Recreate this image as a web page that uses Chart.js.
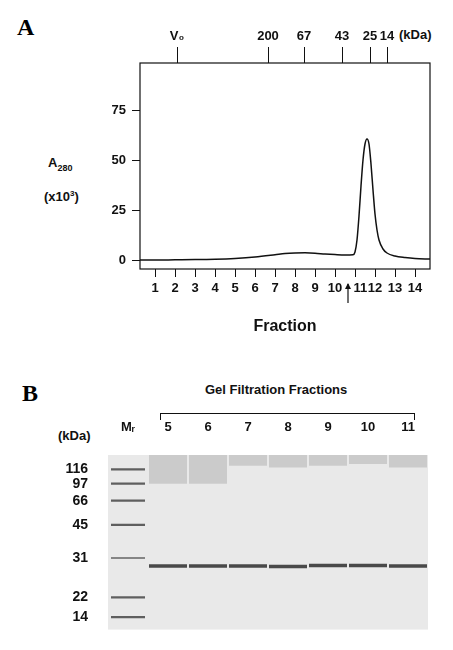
<!DOCTYPE html>
<html><head><meta charset="utf-8">
<script src="https://cdn.jsdelivr.net/npm/chart.js@4/dist/chart.umd.min.js"></script>
<style>
body{margin:0;background:#fff;width:453px;height:650px;position:relative;overflow:hidden;font-family:"Liberation Sans",Arial,sans-serif;font-weight:bold}
canvas{position:absolute;left:0}
.t{position:absolute;font-size:13px;color:#111;white-space:nowrap}
.big{position:absolute;font-family:"Liberation Serif","Times New Roman",serif;font-size:24px;font-weight:bold}
</style></head><body>
<div class="big" style="left:17px;top:14px">A</div>
<div class="big" style="left:22px;top:380px">B</div>
<div class="t" style="left:48px;top:155px">A<sub style="font-size:9px">280</sub></div>
<div class="t" style="left:44px;top:189px">(x10<sup style="font-size:8px">3</sup>)</div>
<div class="t" style="left:399px;top:27px">(kDa)</div>
<div class="t" style="left:205px;top:382px">Gel Filtration Fractions</div>
<div style="position:absolute;left:160px;top:413px;width:253px;height:6px;border:1.5px solid #111;border-bottom:none"></div>
<div class="t" style="left:58px;top:428px">(kDa)</div>
<canvas id="c1" style="top:0;width:453px;height:340px"></canvas>
<canvas id="c2" style="top:380px;width:453px;height:270px"></canvas>
<script>
// Panel A data
const fractionX = [0.25,1,2,3,4,5,6,7,7.5,8,8.5,9,9.5,10,10.5,10.9,11.0,11.1,11.2,11.3,11.4,11.5,11.6,11.7,11.8,11.9,12.0,12.1,12.2,12.4,12.6,13,13.5,14,14.75];
const a280 = [0,0,0.1,0.2,0.4,0.8,1.5,2.6,3.2,3.5,3.6,3.4,3.0,2.7,2.5,2.6,4,10,22,37,50,58,60.5,58,48,35,23,15,10,5.5,3.5,2,1.2,0.7,0.5];
const fractionTicks = [1,2,3,4,5,6,7,8,9,10,11,12,13,14];
const yTicks = [0,25,50,75];
const kdaLabels = ['V\u2080','200','67','43','25','14'];
const kdaPos = [2.1,6.65,8.45,10.35,11.75,12.6];
const arrowFraction = 10.65;

// Panel B data
const lanes = ['M\u1D63','5','6','7','8','9','10','11'];
const markerKDa = [116,97,66,45,31,22,14];
const markerMigration = [16,32,51,78,115,159,181];
const sampleMigration = [null,124,124,124,124.5,123.5,123.5,124];
const smearDepth = [0,32,32,12,14,12,10,14];

const font = {family:'"Liberation Sans", Arial, sans-serif', size:13, weight:'bold'};

const boxPlugin = {id:'box', afterDraw(c){
  const a=c.chartArea, g=c.ctx; g.save(); g.strokeStyle='#111'; g.lineWidth=1.2;
  g.strokeRect(a.left,a.top,a.right-a.left,a.bottom-a.top);
  const x=c.scales.x.getPixelForValue(arrowFraction);
  g.beginPath(); g.moveTo(x,a.bottom+34); g.lineTo(x,a.bottom+15); g.stroke();
  g.beginPath(); g.moveTo(x-3,a.bottom+20); g.lineTo(x,a.bottom+14); g.lineTo(x+3,a.bottom+20); g.fillStyle='#111'; g.fill();
  g.restore();
}};

new Chart(document.getElementById('c1'), {
  type:'line',
  data:{datasets:[{data:fractionX.map((x,i)=>({x,y:a280[i]})), borderColor:'#111', borderWidth:1.5, pointRadius:0, cubicInterpolationMode:'monotone', xAxisID:'x'}]},
  options:{responsive:false, animation:false, devicePixelRatio:1,
    layout:{padding:{left:90,right:23,top:0,bottom:0}},
    plugins:{legend:{display:false},tooltip:{enabled:false}},
    scales:{
      x:{type:'linear',min:0.25,max:14.75,position:'bottom',
        afterBuildTicks:s=>{s.ticks=fractionTicks.map(v=>({value:v}));},
        afterFit:s=>{s.height=71;},
        grid:{drawOnChartArea:false,tickLength:8,color:'#111'},border:{display:false},
        ticks:{font,color:'#111',padding:4,maxRotation:0,autoSkip:false,callback:v=>v===11?'   11':String(v)},
        title:{display:true,text:'Fraction',font:{...font,size:16},color:'#111',padding:{top:10}}},
      x2:{type:'linear',min:0.25,max:14.75,position:'top',
        afterBuildTicks:s=>{s.ticks=kdaPos.map(v=>({value:v}));},
        afterFit:s=>{s.height=63;},
        grid:{drawOnChartArea:false,tickLength:16,color:'#111'},border:{display:false},
        ticks:{font,color:'#111',padding:3,maxRotation:0,autoSkip:false,callback:(v,i)=>kdaLabels[i]}},
      y:{min:-4.5,max:98.5,
        afterBuildTicks:s=>{s.ticks=yTicks.map(v=>({value:v}));},
        afterFit:s=>{s.width=50;},
        grid:{drawOnChartArea:false,tickLength:8,color:'#111'},border:{display:false},
        ticks:{font,color:'#111',padding:6}}
    }},
  plugins:[boxPlugin]
});

const gelBg = {id:'gelbg', beforeDatasetsDraw(c){
  const a=c.chartArea,g=c.ctx; g.save(); g.fillStyle='#e9e9e9'; g.fillRect(a.left,a.top,a.right-a.left,a.bottom-a.top); g.restore();
}};

const datasets = [];
datasets.push({data:lanes.map((l,i)=>i===0?null:[0,smearDepth[i]]), backgroundColor:'rgba(150,150,150,0.35)', barPercentage:0.95, categoryPercentage:1});
markerMigration.forEach((m,k)=>{
  datasets.push({data:lanes.map((l,i)=>i===0?[m-1.2,m+1.2]:null), backgroundColor:k===4?'rgba(90,90,90,0.7)':'rgba(70,70,70,0.85)', barPercentage:0.85, categoryPercentage:1});
});
datasets.push({data:sampleMigration.map(m=>m===null?null:[m-2,m+2]), backgroundColor:'rgba(55,55,55,0.9)', barPercentage:0.95, categoryPercentage:1});

new Chart(document.getElementById('c2'), {
  type:'bar',
  data:{labels:lanes, datasets},
  options:{responsive:false, animation:false, devicePixelRatio:1,
    layout:{padding:{left:60,right:25,top:0,bottom:0}},
    datasets:{bar:{grouped:false}},
    plugins:{legend:{display:false},tooltip:{enabled:false}},
    scales:{
      x:{position:'top',afterFit:s=>{s.height=75;},grid:{display:false},border:{display:false},
        ticks:{font,color:'#111',padding:12}},
      y:{min:0,max:195,reverse:true,
        afterBuildTicks:s=>{s.ticks=markerMigration.map(v=>({value:v}));},
        afterFit:s=>{s.width=48;},
        grid:{display:false},border:{display:false},
        ticks:{font:{...font,size:14},color:'#111',padding:12,autoSkip:false,callback:(v,i)=>String(markerKDa[i])}}
    }},
  plugins:[gelBg]
});
</script>
</body></html>
